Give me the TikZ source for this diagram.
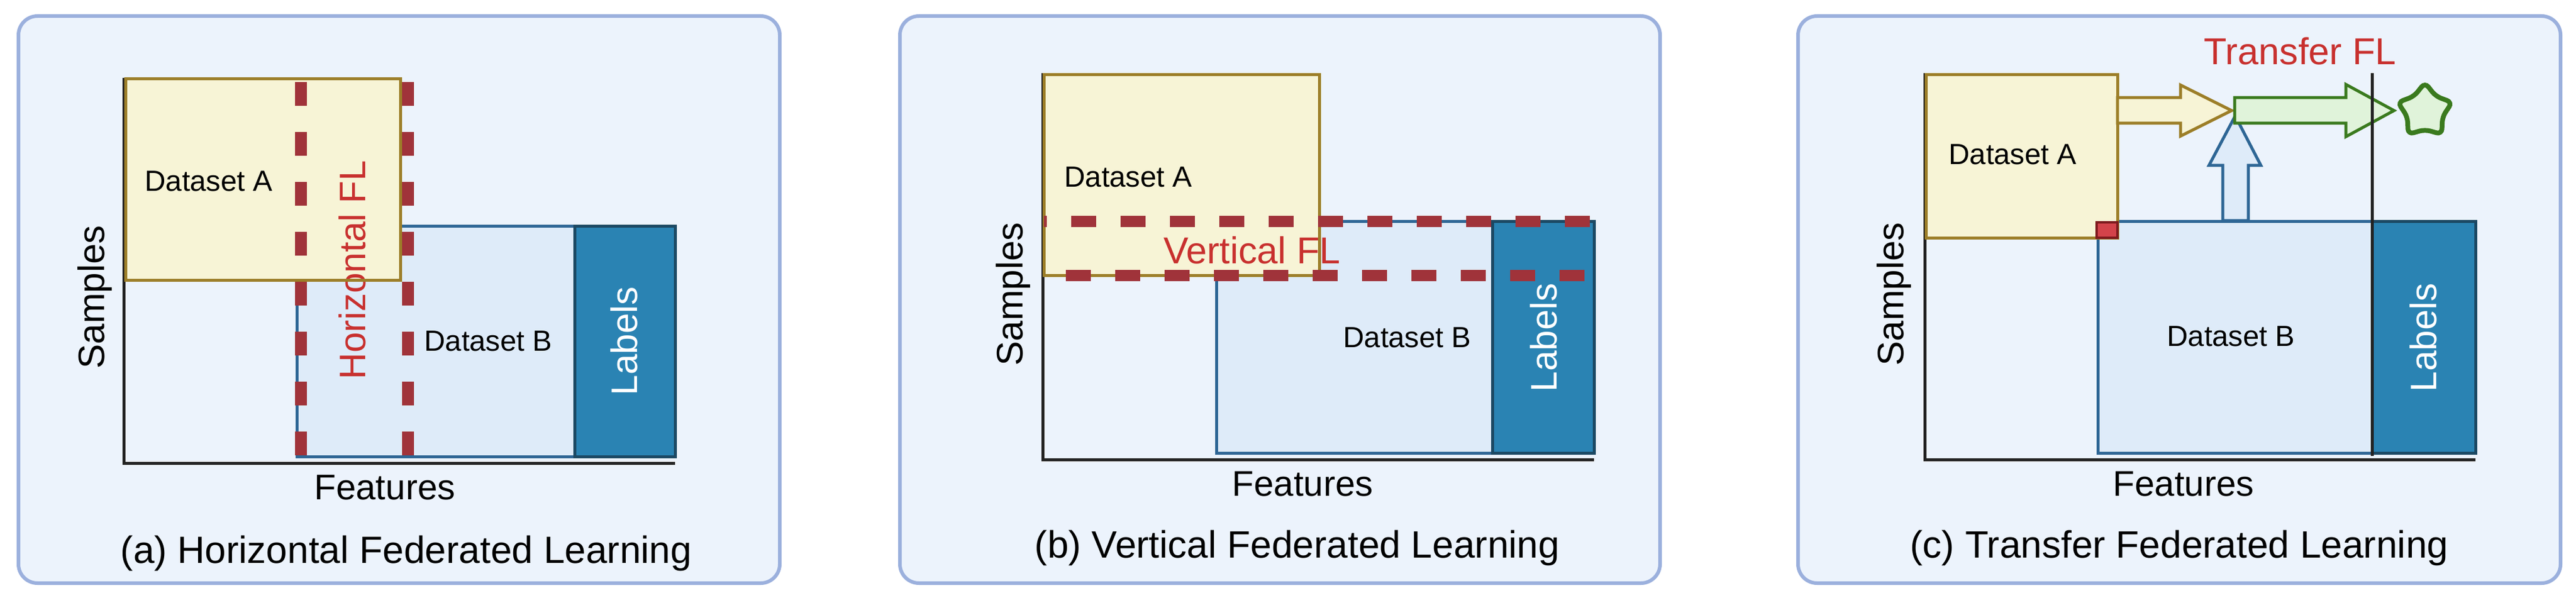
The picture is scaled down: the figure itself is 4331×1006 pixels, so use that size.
\documentclass[tikz,border=0pt]{standalone}
\usepackage{fontspec}
\setmainfont{Liberation Sans}
\usetikzlibrary{shapes.geometric}
\definecolor{panelfill}{HTML}{ECF3FC}
\definecolor{panelborder}{HTML}{9BB0DD}
\definecolor{Afill}{HTML}{F7F4D6}
\definecolor{Astroke}{HTML}{9C7E28}
\definecolor{Bfill}{HTML}{DEEBF9}
\definecolor{Bstroke}{HTML}{2E6695}
\definecolor{Lfill}{HTML}{2A83B3}
\definecolor{Lstroke}{HTML}{1B4863}
\definecolor{dashred}{HTML}{A0333A}
\definecolor{textred}{HTML}{C8302E}
\definecolor{gfill}{HTML}{E0F3DA}
\definecolor{gstroke}{HTML}{3A7A1E}
\definecolor{sqfill}{HTML}{D3434A}
\definecolor{sqstroke}{HTML}{7E1A1E}
\definecolor{axiscol}{HTML}{222222}
\tikzset{
  panel/.style={draw=panelborder, fill=panelfill, line width=6pt, rounded corners=32pt},
  axisline/.style={draw=axiscol, line width=5pt},
  boxA/.style={draw=Astroke, fill=Afill, line width=5pt},
  boxAline/.style={draw=Astroke, line width=5pt},
  boxB/.style={draw=Bstroke, fill=Bfill, line width=5pt},
  boxL/.style={draw=Lstroke, fill=Lfill, line width=5pt},
  redsq/.style={draw=sqstroke, fill=sqfill, line width=4pt},
  flvert/.style={draw=dashred, line width=20pt, dash pattern=on 40pt off 44pt},
  flhor/.style={draw=dashred, line width=19pt, dash pattern=on 42pt off 41pt},
  dtext/.style={inner sep=0pt, anchor=base, font=\fontsize{49}{58}\selectfont},
  bigtext/.style={inner sep=0pt, anchor=base, font=\fontsize{60}{70}\selectfont},
  captext/.style={inner sep=0pt, anchor=base, font=\fontsize{64}{76}\selectfont},
  rottext/.style={inner sep=0pt, rotate=90, font=\fontsize{62}{72}\selectfont},
  redtext/.style={inner sep=0pt, text=textred, font=\fontsize{63}{74}\selectfont},
  olivearrow/.style={draw=Astroke, fill=Afill, line width=5pt, line join=miter},
  bluearrow/.style={draw=Bstroke, fill=Bfill, line width=5pt, line join=miter},
  greenarrow/.style={draw=gstroke, fill=gfill, line width=5pt, line join=miter},
  starshape/.style={star, star points=5, star point ratio=1.55, minimum size=96pt, inner sep=0pt,
      draw=gstroke, fill=gfill, line width=8pt, rounded corners=9pt},
}
\begin{document}
\begin{tikzpicture}[x=1pt, y=-1pt]
\useasboundingbox (0,0) rectangle (4331,1006);
% ---------------- panel (a) ----------------
\draw[panel] (31,27) rectangle (1311,981);
\draw[axisline] (208,131) -- (208,779) -- (1135,779);
\draw[boxB] (499,380) rectangle (966,768);
\draw[boxL] (966,380) rectangle (1135,768);
\draw[boxA] (211,133) rectangle (673,471);
\node[rottext, text=textred] (aFL) at (592,454) {Horizontal FL};
\draw[boxAline] (211,133) rectangle (673,471);
\draw[flvert] (506,138) -- (506,768);
\draw[flvert] (686,138) -- (686,768);
\node[dtext] (aA) at (351,321) {Dataset A};
\node[dtext] (aB) at (821,590) {Dataset B};
\node[rottext, text=white] (aL) at (1049,574) {Labels};
\node[rottext] (aS) at (159,500) {Samples};
\node[bigtext] (aF) at (647,840) {Features};
\node[captext] (aC) at (683,947) {(a) Horizontal Federated Learning};
% ---------------- panel (b) ----------------
\draw[panel] (1513,27) rectangle (2791,981);
\draw[axisline] (1753,123) -- (1753,773) -- (2680,773);
\draw[boxB] (2045,372) rectangle (2509,762);
\draw[boxL] (2509,372) rectangle (2680,762);
\draw[boxA] (1755,126) rectangle (2218,463);
\node[redtext, anchor=base] (bFL) at (2105,443) {Vertical FL};
\draw[boxAline] (1755,126) rectangle (2218,463);
\draw[flhor, dash phase=37pt] (1755,372) -- (2680,372);
\draw[flhor, dash phase=46pt] (1755,463) -- (2680,463);
\node[dtext] (bA) at (1897,314) {Dataset A};
\node[dtext] (bB) at (2366,584) {Dataset B};
\node[rottext, text=white] (bL) at (2595,568) {Labels};
\node[rottext] (bS) at (1703,495) {Samples};
\node[bigtext] (bF) at (2190,834) {Features};
\node[captext] (bC) at (2181,938) {(b) Vertical Federated Learning};
% ---------------- panel (c) ----------------
\draw[panel] (3023,27) rectangle (4305,981);
\draw[axisline] (3236,123) -- (3236,773) -- (4162,773);
\draw[boxB] (3527,372) rectangle (3988,762);
\draw[boxL] (3988,372) rectangle (4162,762);
\draw[boxA] (3238,126) rectangle (3560,400);
\draw[redsq] (3525,374) rectangle (3560,400);
\draw[bluearrow] (3737,371) -- (3737,278) -- (3714,278) -- (3758,195) -- (3801,278) -- (3780,278) -- (3780,371) -- cycle;
\draw[olivearrow] (3560,164) -- (3666,164) -- (3666,143) -- (3752,186) -- (3666,229) -- (3666,207) -- (3560,207) -- cycle;
\draw[greenarrow] (3757,164) -- (3944,164) -- (3944,142) -- (4025,186) -- (3944,230) -- (3944,207) -- (3757,207) -- cycle;
\draw[axisline] (3988,123) -- (3988,767);
\node[starshape] (cStar) at (4077,187) {};
\node[dtext] (cA) at (3384,276) {Dataset A};
\node[dtext] (cB) at (3751,582) {Dataset B};
\node[redtext, anchor=base] (cFL) at (3867,109) {Transfer FL};
\node[rottext, text=white] (cL) at (4074,568) {Labels};
\node[rottext] (cS) at (3184,495) {Samples};
\node[bigtext] (cF) at (3671,834) {Features};
\node[captext] (cC) at (3664,938) {(c) Transfer Federated Learning};
\end{tikzpicture}
\end{document}
